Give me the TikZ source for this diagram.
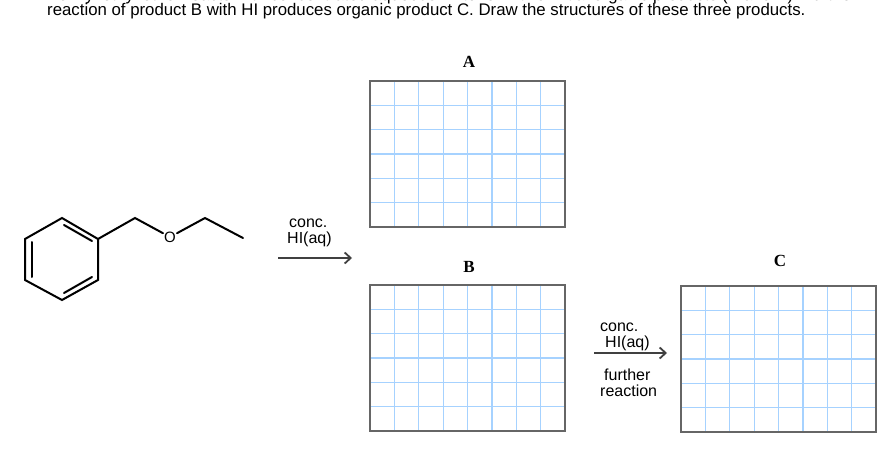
\documentclass[tikz,border=0pt]{standalone}
\usepackage{fontspec}
\setmainfont{Liberation Sans}
\newfontfamily\serifb{Liberation Serif}
\usetikzlibrary{arrows.meta}
\tikzset{
 gridbox/.style={draw=gray!80!black, line width=1.1pt},
 bond/.style={line width=2pt, line cap=round},
 rxn/.style={draw=black!75, line width=1.8pt, -{Straight Barb[length=6pt,width=11pt]}},
 lab/.style={font=\fontsize{16}{16}\selectfont, inner sep=0pt},
 boxlab/.style={font=\fontsize{17}{17}\serifb\bfseries, inner sep=0pt}
}
\newcommand{\gridat}[3]{%
 \draw[gridbox] (#1,#2) rectangle ++(195,146);
 \foreach \i in {1,...,7} \draw[blue!50!cyan!35, line width=1.2pt] ({#1+\i*24.4},#2) -- ++(0,146);
 \foreach \j in {1,...,5} \draw[blue!50!cyan!35, line width=1.2pt] (#1,{#2+\j*24.33}) -- ++(195,0);
 \draw[gridbox] (#1,#2) rectangle ++(195,146);
 \coordinate (#3) at ({#1+97.5},#2);}
\begin{document}
\begin{tikzpicture}[x=1pt,y=-1pt]
\useasboundingbox (0,0) rectangle (884,455);
\node[anchor=base west, align=left, inner sep=0pt, font=\fontsize{16.8}{16}\selectfont] (q) at (47,16)
{Benzyl ethyl ether reacts with concentrated aqueous HI to form two initial organic products (A and B). Further\\
reaction of product B with HI produces organic product C. Draw the structures of these three products.};
% molecule
\coordinate (r1) at (62,218); \coordinate (r2) at (98,239); \coordinate (r3) at (98,280);
\coordinate (r4) at (62,300); \coordinate (r5) at (25,280); \coordinate (r6) at (25,239);
\draw[bond] (r1)--(r2)--(r3)--(r4)--(r5)--(r6)--cycle;
\draw[bond] (64,225) -- (92,241);
\draw[bond] (32,242) -- (32,277);
\draw[bond] (64,293) -- (92,277);
\node[inner sep=1pt, font=\fontsize{15}{15}\selectfont] (O) at (170,237) {O};
\coordinate (c1) at (135,218); \coordinate (c2) at (205,218); \coordinate (c3) at (243,238);
\draw[bond] (r2) -- (c1) -- (O) -- (c2) -- (c3);
% arrow 1
\coordinate (a1) at (278,258); \coordinate (a2) at (352,258);
\draw[rxn] (a1) -- (a2);
\node[lab, anchor=base west] (t1) at (289,227) {conc.};
\node[lab, anchor=base west] (t2) at (287,243) {HI(aq)};
% grids
\gridat{370}{81}{ga}
\gridat{370}{285}{gb}
\gridat{681}{286}{gc}
\node[boxlab] (A) at (469,62) {A};
\node[boxlab] (B) at (469,267) {B};
\node[boxlab] (C) at (780,261) {C};
% arrow 2
\coordinate (b1) at (594,353); \coordinate (b2) at (667,353);
\draw[rxn] (b1) -- (b2);
\node[lab, anchor=base west] (u1) at (600,331) {conc.};
\node[lab, anchor=base west] (u2) at (605,347) {HI(aq)};
\node[lab, anchor=base west] (u3) at (604,380) {further};
\node[lab, anchor=base west] (u4) at (600,396) {reaction};
\end{tikzpicture}
\end{document}
